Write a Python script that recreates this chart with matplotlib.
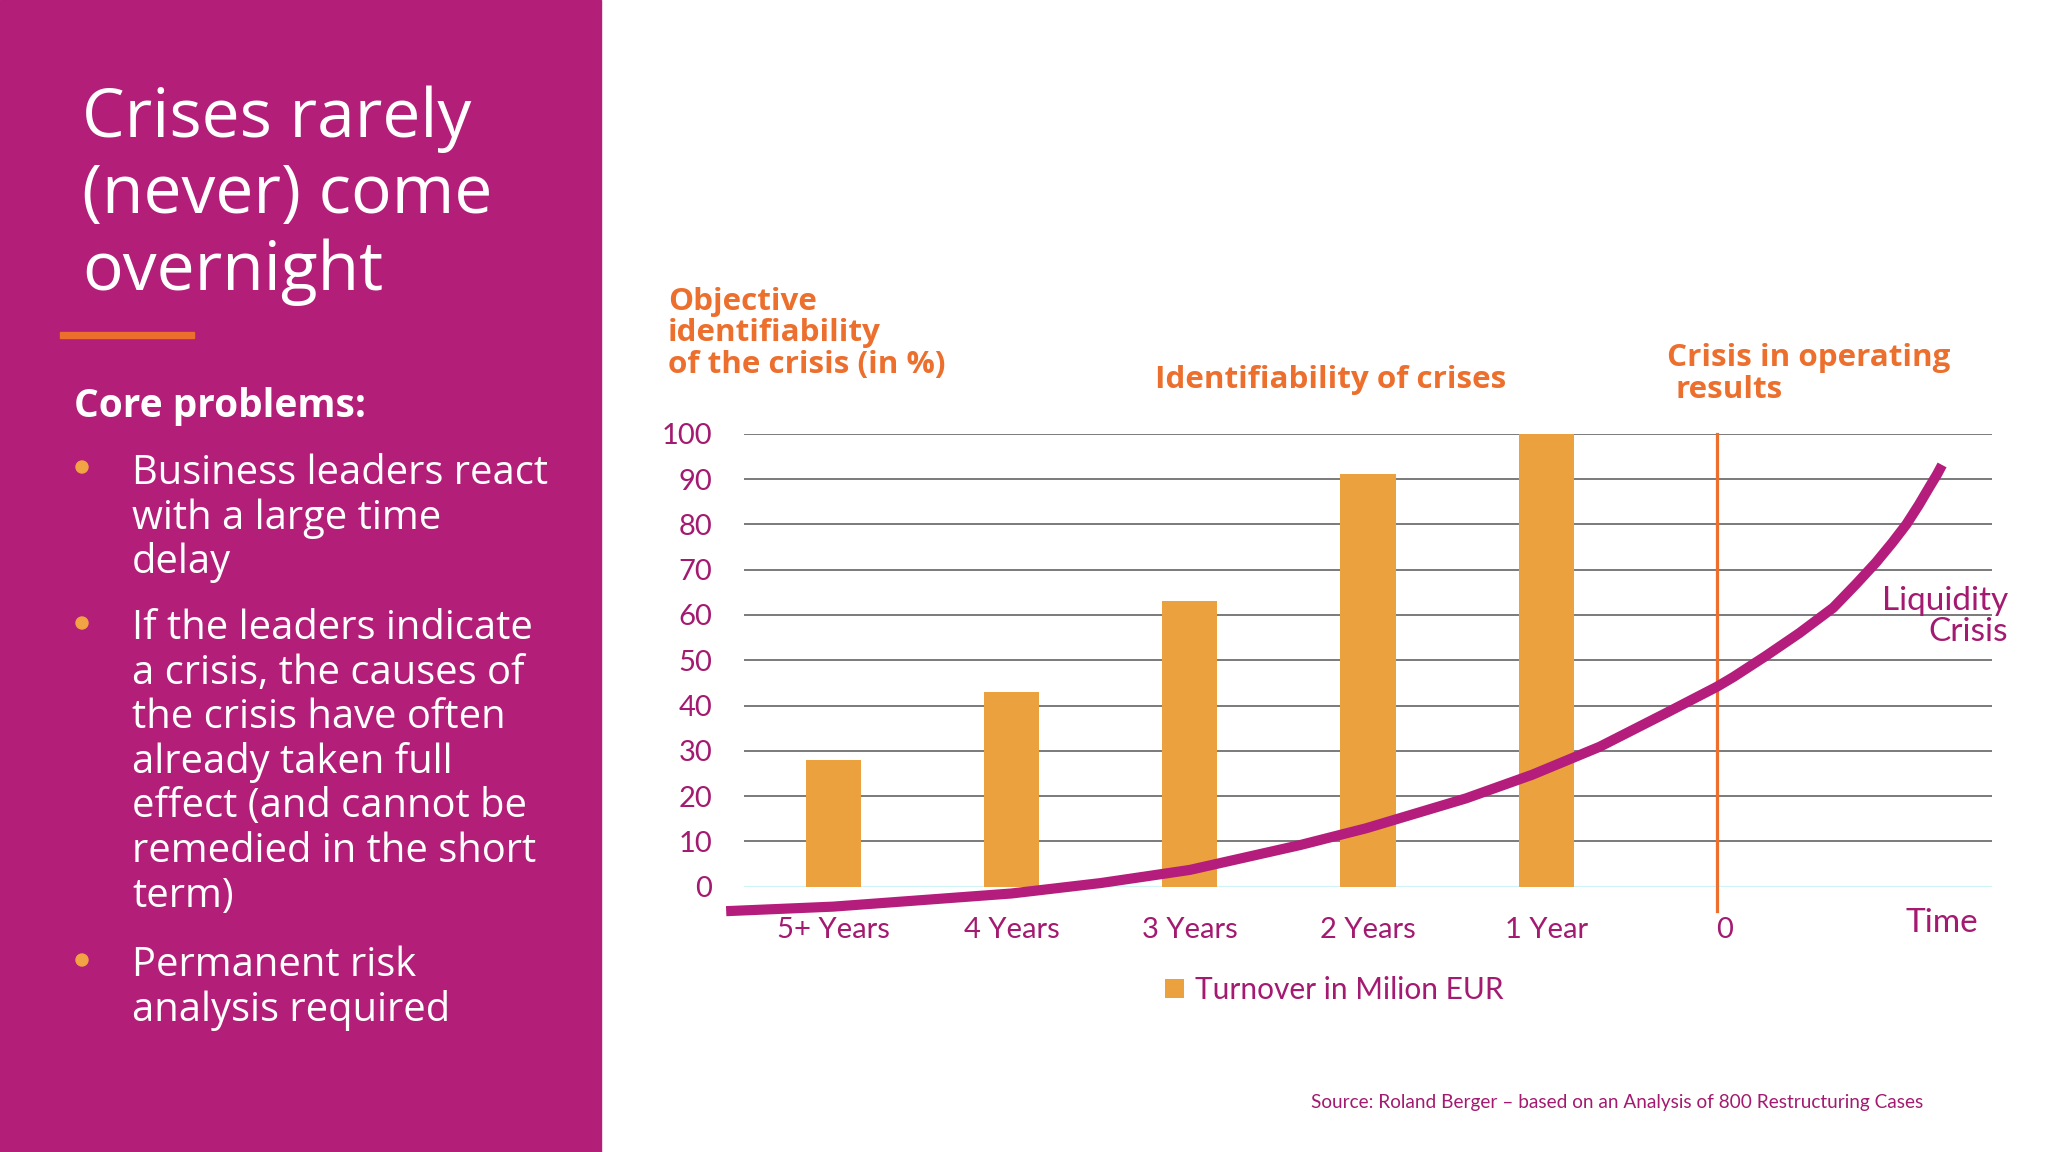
import matplotlib.pyplot as plt
import matplotlib.patches as mpatches
import numpy as np

plt.rcParams['font.family'] = ['Lato', 'DejaVu Sans']
SANS2 = ['Open Sans', 'DejaVu Sans']

# Chart values
categories = ['5+ Years', '4 Years', '3 Years', '2 Years', '1 Year', '0']
turnover = [28, 43, 63, 91, 100]          # bars, one per year before the crisis
yticks = [0, 10, 20, 30, 40, 50, 60, 70, 80, 90, 100]

# liquidity crisis curve (category units / %)
curve_x = [-0.60, 0.00, 1.00, 1.50, 2.00, 2.62, 2.99, 3.55, 3.92, 4.30,
           4.67, 4.96, 5.05, 5.23, 5.42, 5.61, 5.74, 5.85, 5.94, 6.02,
           6.09, 6.15, 6.19, 6.22]
curve_y = [-5.4, -4.4, -1.5, 0.8, 3.7, 9.2, 12.9, 19.5, 24.7, 30.9,
           38.3, 44.2, 46.3, 50.9, 56.0, 61.6, 66.9, 71.6, 75.9, 80.0,
           84.3, 88.3, 90.9, 93.1]
crisis_x = 4.96   # "crisis in operating results"

title_lines = ['Crises rarely', '(never) come', 'overnight']
bullets = [
    ['Business leaders react', 'with a large time', 'delay'],
    ['If the leaders indicate', 'a crisis, the causes of', 'the crisis have often',
     'already taken full', 'effect (and cannot be', 'remedied in the short', 'term)'],
    ['Permanent risk', 'analysis required'],
]

MAGENTA = '#B21E78'
TXT_MAG = '#A31A70'
ORANGE = '#EC6F2D'
BAR = '#EBA13D'
DOT = '#F2A444'

W, H = 2048, 1152


def fx(px):
    return px / W


def fy(py):
    return 1 - py / H


fig = plt.figure(figsize=(20.48, 11.52), dpi=100)
fig.patch.set_facecolor('white')

# left panel
fig.patches.append(mpatches.Rectangle((0, 0), fx(601), 1, transform=fig.transFigure,
                                      color=MAGENTA, zorder=0))
fig.patches.append(mpatches.Rectangle((fx(60), fy(338)), fx(194) - fx(60), fy(332) - fy(338),
                                      transform=fig.transFigure, color=ORANGE, zorder=1))

for i, line in enumerate(title_lines):
    fig.text(fx(82), fy(137 + i * 76.3), line, color='white', fontsize=48.8,
             family=SANS2, va='baseline', ha='left')

fig.text(fx(74), fy(417), 'Core problems:', color='white', fontsize=28,
         family=SANS2, fontweight='bold', va='baseline', ha='left')

bullet_starts = [484, 639, 976]
dot_y = [467, 623, 960]
for b, lines in enumerate(bullets):
    for j, line in enumerate(lines):
        fig.text(fx(132), fy(bullet_starts[b] + j * 44.6), line, color='white',
                 fontsize=28.7, family=SANS2, va='baseline', ha='left')
    fig.patches.append(mpatches.Circle((82 / 100, (H - dot_y[b]) / 100), 0.06,
                                       transform=fig.dpi_scale_trans, color=DOT, zorder=2))

# chart
ax = fig.add_axes([fx(744), fy(886.7), fx(1992) - fx(744), fy(433.7) - fy(886.7)])
ax.set_facecolor('none')
ax.set_xlim(-0.5, 6.5)
ax.set_ylim(0, 100)

for yv in yticks[1:]:
    ax.axhline(yv, color='#7A7A7A', lw=1.4, zorder=0)
ax.axhline(0, color='#CFF3F7', lw=1.6, zorder=0)

bars = ax.bar(range(len(turnover)), turnover, width=0.31, color=BAR, zorder=2,
              label='Turnover in Milion EUR')

ax.plot([crisis_x, crisis_x], [-5.3, 100], color=ORANGE, lw=2.3, zorder=3, clip_on=False)
ax.plot(curve_x, curve_y, color='#B41D7B', lw=7.3, solid_capstyle='butt',
        solid_joinstyle='round', zorder=4, clip_on=False)

ax.set_yticks(yticks)
ax.set_yticklabels([str(v) for v in yticks])
ax.set_xticks(range(len(categories)))
ax.set_xticklabels(categories)
ax.tick_params(axis='y', length=0, pad=23, labelsize=21, labelcolor=TXT_MAG)
ax.tick_params(axis='x', length=0, pad=22, labelsize=21, labelcolor=TXT_MAG)
for s in ax.spines.values():
    s.set_visible(False)

ax.text(6.22, -8.0, 'Time', color=TXT_MAG, fontsize=24, ha='center', va='center',
        clip_on=False)

fig.legend(handles=[bars], loc='center', bbox_to_anchor=(fx(1334), fy(990)),
           frameon=False, fontsize=21.5, labelcolor=TXT_MAG, handlelength=0.65,
           handleheight=0.65, handletextpad=0.35)

# headings
for i, line in enumerate(['Objective', 'identifiability', 'of the crisis (in %)']):
    fig.text(fx(668), fy(310 + i * 31.5), line, color=ORANGE, fontsize=22.6,
             family=SANS2, fontweight='bold', va='baseline', ha='left')
fig.text(fx(1155), fy(388), 'Identifiability of crises', color=ORANGE, fontsize=22.6,
         family=SANS2, fontweight='bold', va='baseline', ha='left')
fig.text(fx(1667), fy(366), 'Crisis in operating', color=ORANGE, fontsize=22.6,
         family=SANS2, fontweight='bold', va='baseline', ha='left')
fig.text(fx(1676), fy(398), 'results', color=ORANGE, fontsize=22.6,
         family=SANS2, fontweight='bold', va='baseline', ha='left')
fig.text(fx(2008), fy(610), 'Liquidity', color=TXT_MAG, fontsize=24,
         va='baseline', ha='right')
fig.text(fx(2008), fy(641), 'Crisis', color=TXT_MAG, fontsize=24,
         va='baseline', ha='right')

fig.text(fx(1311), fy(1108), 'Source: Roland Berger \u2013 based on an Analysis of 800 Restructuring Cases',
         color=TXT_MAG, fontsize=13.7, va='baseline', ha='left')

fig.savefig('out.png', dpi=100)
